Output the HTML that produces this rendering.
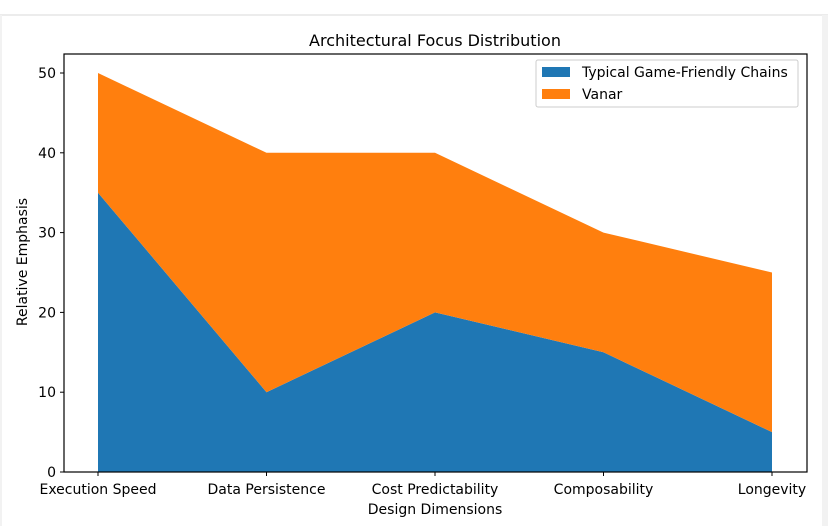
<!DOCTYPE html>
<html><head><meta charset="utf-8"><style>
body{margin:0;background:#fff;}
svg{display:block;font-family:"DejaVu Sans","Liberation Sans",sans-serif;}
</style></head><body>
<svg id="c" width="828" height="526">
<rect x="0" y="0" width="828" height="526" fill="#fff"/>
<line x1="0" y1="15" x2="828" y2="15" stroke="#ececec" stroke-width="2"/>
<rect x="822" y="15" width="6" height="511" fill="#f2f2f2"/>
<rect x="0" y="15" width="2" height="511" fill="#f2f2f2"/>
<text x="435" y="46" text-anchor="middle" font-size="16">Architectural Focus Distribution</text>
<g id="plot"></g>
<text x="435" y="514" text-anchor="middle" font-size="14">Design Dimensions</text>
<text transform="translate(27,262) rotate(-90)" text-anchor="middle" font-size="14">Relative Emphasis</text>
<g>
<rect x="536" y="60" width="262" height="47" fill="#fff" stroke="#ccc" rx="2"/>
<rect x="542" y="67" width="28" height="10" fill="#1f77b4"/>
<text x="582" y="77" font-size="14">Typical Game-Friendly Chains</text>
<rect x="542" y="89" width="28" height="10" fill="#ff7f0e"/>
<text x="582" y="99" font-size="14">Vanar</text>
</g>
</svg>
<script>
const categories=["Execution Speed","Data Persistence","Cost Predictability","Composability","Longevity"];
const typical=[35,10,20,15,5];
const vanar=[15,30,20,15,20];
const yTicks=[0,10,20,30,40,50];
const L=64,R=807,T=54,B=472;
const x0=98,x1=772;
function xs(i){return x0+(x1-x0)*i/(categories.length-1);}
function ys(v){return B-(B-73)*v/50;}
const NS="http://www.w3.org/2000/svg";
const g=document.getElementById('plot');
function mk(t,a){const e=document.createElementNS(NS,t);for(const k in a)e.setAttribute(k,a[k]);g.appendChild(e);return e;}
const stackTop=typical.map((v,i)=>v+vanar[i]);
let p1="M"+xs(0)+","+ys(0);
typical.forEach((v,i)=>p1+=" L"+xs(i)+","+ys(v));
p1+=" L"+xs(typical.length-1)+","+ys(0)+"Z";
let p2="";
stackTop.forEach((v,i)=>p2+=(i?" L":"M")+xs(i)+","+ys(v));
for(let i=typical.length-1;i>=0;i--)p2+=" L"+xs(i)+","+ys(typical[i]);
p2+="Z";
const a1=mk('path',{d:p1,fill:"#1f77b4"});


const a2=mk('path',{d:p2,fill:"#ff7f0e"});


const fr=mk('rect',{x:L,y:T,width:R-L,height:B-T,fill:"none",stroke:"#000","stroke-width":1.2});


yTicks.forEach(v=>{
 mk('line',{x1:L-4,x2:L,y1:ys(v),y2:ys(v),stroke:"#000"});
 const t=mk('text',{x:L-8,y:ys(v)+5,"text-anchor":"end","font-size":14});
 t.textContent=v;
 
 
});
categories.forEach((c,i)=>{
 mk('line',{x1:xs(i),x2:xs(i),y1:B,y2:B+4,stroke:"#000"});
 const t=mk('text',{x:xs(i),y:B+22,"text-anchor":"middle","font-size":14});
 t.textContent=c;
 
 
});
</script>
</body></html>
